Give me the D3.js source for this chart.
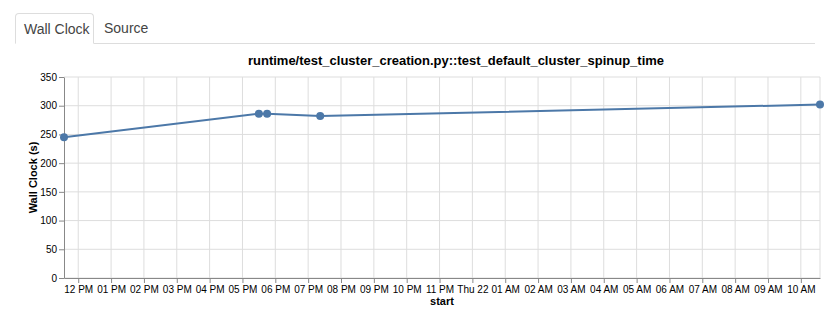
<!DOCTYPE html>
<html>
<head>
  <meta charset="utf-8">
  <script src="https://d3js.org/d3.v7.min.js"></script>
  <style>
    body { margin: 0; font-family: "Liberation Sans", Arial, sans-serif; background: #fff; }
    .tabs { position: absolute; left: 15px; top: 13px; width: 800px; height: 30px; border-bottom: 1px solid #ddd; }
    .tab { position: absolute; top: 0; height: 30px; line-height: 30px; font-size: 14px; color: #444; padding: 0 10px; box-sizing: border-box; white-space: nowrap; }
    .tab.active { left: 0; width: 79px; padding: 0 8px; border: 1px solid #ddd; border-bottom: 1px solid #fff; border-radius: 4px 4px 0 0; height: 31px; background: #fff; }
    .tab.other { left: 79px; }
    svg { position: absolute; left: 0; top: 0; }
    .grid line { stroke: #ddd; }
    .domain { stroke: #888; }
    .tick line { stroke: #888; }
    .tick text { font-size: 10px; fill: #000; font-family: "Liberation Sans", Arial, sans-serif; }
  </style>
</head>
<body>
  <div class="tabs">
    <div class="tab active">Wall Clock</div>
    <div class="tab other">Source</div>
  </div>
  <svg width="837" height="330"></svg>
  <script>
    // data points (local time)
    const starts = [
      new Date(2022, 8, 21, 11, 34),
      new Date(2022, 8, 21, 17, 30),
      new Date(2022, 8, 21, 17, 45),
      new Date(2022, 8, 21, 19, 22),
      new Date(2022, 8, 22, 10, 35)
    ];
    const wallClock = [245, 286, 286, 282, 302];
    const yTicks = [0, 50, 100, 150, 200, 250, 300, 350];

    const title = 'runtime/test_cluster_creation.py::test_default_cluster_spinup_time';
    const margin = { left: 64, top: 77 };
    const innerWidth = 756;
    const innerHeight = 201;

    const data = starts.map((d, i) => ({ t: d, v: wallClock[i] }));

    const svg = d3.select('svg');
    const g = svg.append('g')
      .attr('transform', `translate(${margin.left},${margin.top})`);

    const x = d3.scaleTime()
      .domain(d3.extent(starts))
      .range([0, innerWidth]);
    const y = d3.scaleLinear()
      .domain([0, 350])
      .range([innerHeight, 0]);

    const hours = d3.timeHour.range(starts[0], starts[starts.length - 1]);
    const fmt = d => d.getHours() === 0 ? d3.timeFormat('%a %d')(d) : d3.timeFormat('%I %p')(d);

    // grid
    const grid = g.append('g').attr('class', 'grid');
    grid.selectAll('.vx').data(hours).enter().append('line')
      .attr('x1', d => x(d)).attr('x2', d => x(d))
      .attr('y1', 0).attr('y2', innerHeight);
    grid.selectAll('.hy').data(yTicks).enter().append('line')
      .attr('x1', 0).attr('x2', innerWidth)
      .attr('y1', d => y(d)).attr('y2', d => y(d));
    grid.append('line')
      .attr('x1', innerWidth).attr('x2', innerWidth)
      .attr('y1', 0).attr('y2', innerHeight);

    // axes
    g.append('g')
      .attr('transform', `translate(0,${innerHeight})`)
      .call(d3.axisBottom(x).tickValues(hours).tickFormat(fmt).tickSize(5).tickSizeOuter(0).tickPadding(3));
    g.append('g')
      .call(d3.axisLeft(y).tickValues(yTicks).tickSize(5).tickSizeOuter(0).tickPadding(2));

    // axis titles
    svg.append('text')
      .attr('x', margin.left + innerWidth / 2)
      .attr('y', 305)
      .attr('text-anchor', 'middle')
      .style('font-size', '11px')
      .style('font-weight', 'bold')
      .text('start');

    svg.append('text')
      .attr('transform', `translate(37,${margin.top + innerHeight / 2}) rotate(-90)`)
      .attr('text-anchor', 'middle')
      .style('font-size', '11px')
      .style('font-weight', 'bold')
      .text('Wall Clock (s)');

    // chart title
    svg.append('text')
      .attr('x', 456)
      .attr('y', 65)
      .attr('text-anchor', 'middle')
      .style('font-size', '13px')
      .style('font-weight', 'bold')
      .text(title);

    // line + points
    const line = d3.line().x(d => x(d.t)).y(d => y(d.v));
    g.append('path')
      .datum(data)
      .attr('d', line)
      .attr('fill', 'none')
      .attr('stroke', '#4c78a8')
      .attr('stroke-width', 2);

    g.selectAll('circle').data(data)
      .enter().append('circle')
      .attr('cx', d => x(d.t))
      .attr('cy', d => y(d.v))
      .attr('r', 4)
      .attr('fill', '#4c78a8');
  </script>
</body>
</html>
